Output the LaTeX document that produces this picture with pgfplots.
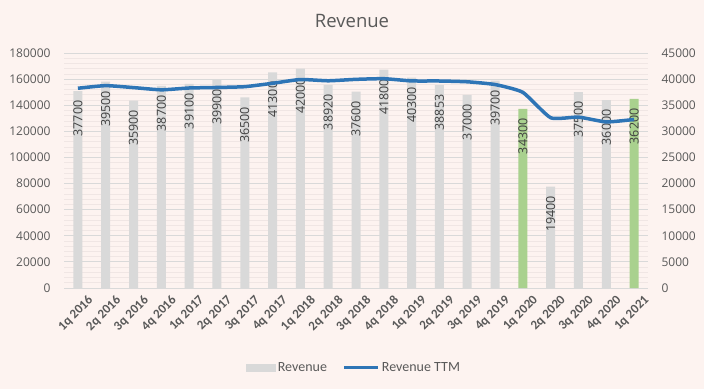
\documentclass[border=0pt]{standalone}
\usepackage{fontspec}
\setmainfont{Open Sans}
\newfontfamily\carlito{Carlito}
\usepackage{pgfplots}
\pgfplotsset{compat=1.18}
\definecolor{bg}{RGB}{253,243,240}
\definecolor{barg}{RGB}{217,217,217}
\definecolor{barv}{RGB}{169,209,142}
\definecolor{linec}{RGB}{46,117,182}
\definecolor{txt}{RGB}{89,89,89}
\definecolor{vtxt}{RGB}{64,64,64}
\definecolor{majg}{RGB}{217,217,217}
\definecolor{ming}{RGB}{240,230,228}
\begin{document}
\begin{tikzpicture}
\path[use as bounding box, fill=bg] (0,0) rectangle (704pt,389pt);
\node[font=\fontsize{18.5}{22}\selectfont, text=txt] at (352pt,368pt) {Revenue};
\begin{axis}[
  at={(64pt,101pt)}, anchor=south west, scale only axis, width=584pt, height=235pt,
  xmin=-0.5, xmax=20.5, ymin=0, ymax=45000,
  axis x line*=bottom, axis y line*=right, axis line style={draw=none},
  xtick={0,...,20},
  xticklabels={1q 2016,2q 2016,3q 2016,4q 2016,1q 2017,2q 2017,3q 2017,4q 2017,1q 2018,2q 2018,3q 2018,4q 2018,1q 2019,2q 2019,3q 2019,4q 2019,1q 2020,2q 2020,3q 2020,4q 2020,1q 2021},
  xticklabel style={font=\carlito\bfseries\fontsize{13}{15}\selectfont, text=txt, rotate=45, anchor=north east, inner sep=1pt, yshift=-10pt, xshift=3pt},
  ytick={0,5000,...,45000}, minor y tick num=4,
  ymajorgrids, yminorgrids,
  major grid style={majg, line width=0.8pt}, minor grid style={ming, line width=0.6pt},
  major tick length=0pt, minor tick length=0pt,
  yticklabel style={font=\fontsize{12}{14}\selectfont, text=txt, xshift=10pt},
  scaled y ticks=false,
  /pgf/number format/.cd, fixed, 1000 sep={}, assume math mode=true, /pgfplots/.cd,
  ybar, bar width=9pt,
  nodes near coords={\pgfmathprintnumber[fixed,precision=0,1000 sep={}]{\pgfplotspointmeta}},
  nodes near coords style={rotate=90, anchor=east, xshift=-6pt, font=\fontsize{12.5}{14}\selectfont, text=vtxt},
]
\addplot[fill=barg, draw=none, bar shift=0pt] coordinates {
(0,37700) (1,39500) (2,35900) (3,38700) (4,39100) (5,39900) (6,36500) (7,41300)
(8,42000) (9,38920) (10,37600) (11,41800) (12,40300) (13,38853) (14,37000) (15,39700)
(17,19400) (18,37500) (19,36000)};
\addplot[fill=barv, draw=none, bar shift=0pt] coordinates {(16,34300) (20,36200)};
\end{axis}
\begin{axis}[
  at={(64pt,101pt)}, anchor=south west, scale only axis, width=584pt, height=235pt,
  xmin=-0.5, xmax=20.5, ymin=0, ymax=180000,
  hide x axis, axis y line*=left, axis line style={draw=none},
  ytick={0,20000,...,180000}, major tick length=0pt,
  yticklabel style={font=\fontsize{12}{14}\selectfont, text=txt, xshift=-10pt},
  scaled y ticks=false,
  /pgf/number format/.cd, fixed, 1000 sep={}, assume math mode=true, /pgfplots/.cd,
  legend columns=2,
  legend style={at={(0.497,-0.34)}, anchor=center, draw=none, fill=none,
    font=\carlito\fontsize{14}{16}\selectfont, text=txt,
    /tikz/every even column/.append style={column sep=14pt}},
]
\addlegendimage{legend image code/.code={\fill[barg] (0pt,-3.5pt) rectangle (29pt,3.5pt);}}
\addlegendentry{Revenue}
\addplot[linec, line width=3.5pt, smooth, tension=0.3, mark=none,
  legend image code/.code={\draw[linec, line width=3pt] (0pt,0pt) -- (34pt,0pt);}] coordinates {
(0,153000) (1,155000) (2,153500) (3,151800) (4,153200) (5,153600) (6,154200) (7,156800)
(8,159700) (9,158720) (10,159820) (11,160320) (12,158620) (13,158553) (14,157953) (15,155853)
(16,149853) (17,130400) (18,130900) (19,127200) (20,129100)};
\addlegendentry{Revenue TTM}
\end{axis}
\end{tikzpicture}
\end{document}
